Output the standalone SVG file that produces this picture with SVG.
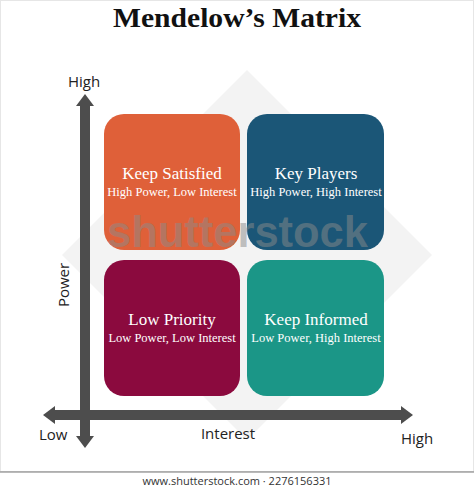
<svg xmlns="http://www.w3.org/2000/svg" width="474" height="489" viewBox="0 0 474 489">
  <style>
    .title { font-family: "Liberation Serif", "DejaVu Serif", serif; font-weight: bold; font-size: 28px; fill: #111; }
    .head { font-family: "Liberation Serif", "DejaVu Serif", serif; font-size: 17px; fill: #fff; text-anchor: middle; }
    .sub { font-family: "Liberation Serif", "DejaVu Serif", serif; font-size: 12.5px; fill: #fff; text-anchor: middle; }
    .axis { font-family: "Open Sans", "Liberation Sans", sans-serif; font-size: 15px; fill: #222; }
    .foot { font-family: "Open Sans", "Liberation Sans", sans-serif; font-size: 11px; fill: #333; text-anchor: middle; }
    .ax { fill: #4d4d4d; }
  </style>
  <rect x="0" y="0" width="474" height="489" fill="#fff"/>
  <rect x="0.5" y="0.5" width="473" height="471" fill="none" stroke="#e6e6e6"/>
  <!-- background diamond -->
  <polygon points="247,70 432,255 247,440 62,255" fill="#f3f3f3"/>
  <text class="title" x="237" y="27" text-anchor="middle" textLength="248" lengthAdjust="spacingAndGlyphs">Mendelow’s Matrix</text>

  <g id="keep-satisfied">
    <rect x="104" y="114" width="136" height="136" rx="20" fill="#df6039"/>
    <text class="head" x="172" y="179">Keep Satisfied</text>
    <text class="sub" x="172" y="196">High Power, Low Interest</text>
  </g>
  <g id="key-players">
    <rect x="247" y="114" width="137" height="136" rx="20" fill="#1b5677"/>
    <text class="head" x="316" y="179">Key Players</text>
    <text class="sub" x="316" y="196">High Power, High Interest</text>
  </g>
  <g id="low-priority">
    <rect x="104" y="260" width="136" height="136" rx="20" fill="#8b0a3e"/>
    <text class="head" x="172" y="325">Low Priority</text>
    <text class="sub" x="172" y="342">Low Power, Low Interest</text>
  </g>
  <g id="keep-informed">
    <rect x="247" y="260" width="137" height="136" rx="20" fill="#1b9687"/>
    <text class="head" x="316" y="325">Keep Informed</text>
    <text class="sub" x="316" y="342">Low Power, High Interest</text>
  </g>

  <text x="107" y="247" font-family="Liberation Sans, Arial, sans-serif" font-weight="bold" font-size="45" fill="#8a8a8a" fill-opacity="0.5" textLength="261" lengthAdjust="spacingAndGlyphs">shutterstock</text>

  <g id="connectors">
    <!-- vertical axis -->
    <rect class="ax" x="80" y="104" width="10" height="334"/>
    <polygon class="ax" points="85,94 94,106 76,106"/>
    <polygon class="ax" points="85,448 94,436 76,436"/>
    <!-- horizontal axis -->
    <rect class="ax" x="53" y="410" width="350" height="10"/>
    <polygon class="ax" points="43,415 55,406 55,424"/>
    <polygon class="ax" points="413,415 401,406 401,424"/>
  </g>

  <text class="axis" x="68" y="87">High</text>
  <text class="axis" x="0" y="0" text-anchor="middle" transform="translate(69,285) rotate(-90)">Power</text>
  <text class="axis" x="39" y="440">Low</text>
  <text class="axis" x="228" y="439" text-anchor="middle">Interest</text>
  <text class="axis" x="401" y="444">High</text>

  <line x1="0" y1="472" x2="474" y2="472" stroke="#777" stroke-width="1"/>
  <text class="foot" x="237" y="485">www.shutterstock.com · 2276156331</text>
</svg>
